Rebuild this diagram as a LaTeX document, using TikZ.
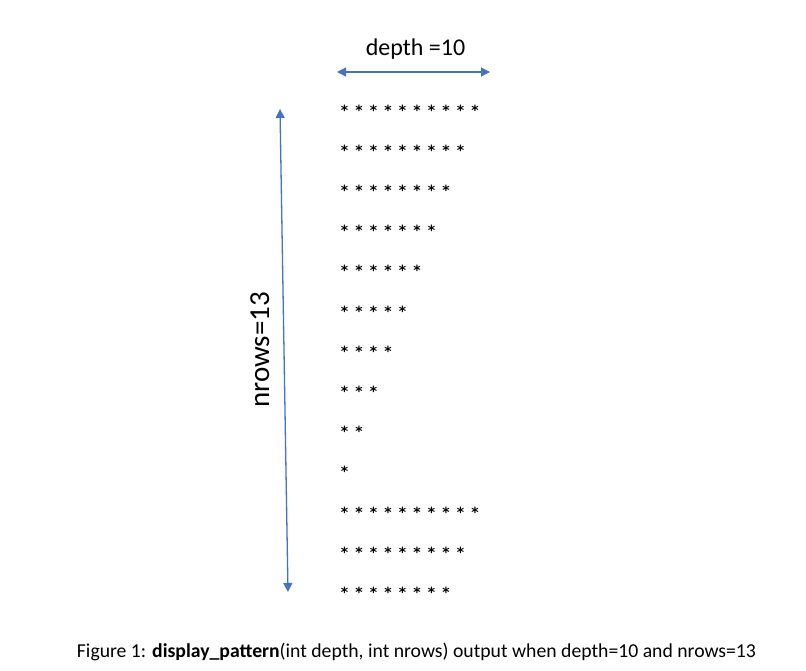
\documentclass[tikz,border=0pt]{standalone}
\usepackage{fontspec}
\setmainfont{Carlito}
\newfontfamily\starfont{DejaVu Sans}
\usetikzlibrary{arrows.meta}
\definecolor{arrowblue}{HTML}{4472C4}
\newcommand\onestar{\makebox[14.5pt][c]{*}}
\tikzset{
  dimarrow/.style={draw=arrowblue, line width=1.3pt, {Triangle[length=9pt,width=9pt]}-{Triangle[length=9pt,width=9pt]}},
  lbl/.style={inner sep=0pt, anchor=base},
  starrow/.style={anchor=base west, inner sep=0pt, font=\starfont\bfseries\fontsize{14}{16}\selectfont}
}
\begin{document}
\begin{tikzpicture}[x=1pt,y=-1pt]
\useasboundingbox[fill=white] (0,0) rectangle (806,670);
% depth arrow
\coordinate (dl) at (337,72);
\coordinate (dr) at (490,72);
\draw[dimarrow] (dl) -- (dr);
\node[lbl, font=\fontsize{24}{28}\selectfont] (depth) at (415.5,55) {depth =10};
% nrows arrow
\coordinate (nt) at (280,109);
\coordinate (nb) at (288,592);
\draw[dimarrow] (nt) -- (nb);
\node[lbl, rotate=90, font=\fontsize{29}{34}\selectfont] (nrows) at (269,350) {nrows=13};
% star rows
\foreach \n/\cnt [count=\i] in {1/10,2/9,3/8,4/7,5/6,6/5,7/4,8/3,9/2,10/1,11/10,12/9,13/8}{
  \pgfmathsetmacro{\yy}{107+40.2*(\i-1)+8}
  \node[starrow] (row\n) at (337,\yy) {\foreach \k in {1,...,\cnt}{\onestar}};
}
% caption
\node[lbl, font=\fontsize{19.7}{23}\selectfont] (cap) at (416.5,657) {Figure 1: \textbf{display\_pattern}(int depth, int nrows) output when depth=10 and nrows=13};
\end{tikzpicture}
\end{document}
